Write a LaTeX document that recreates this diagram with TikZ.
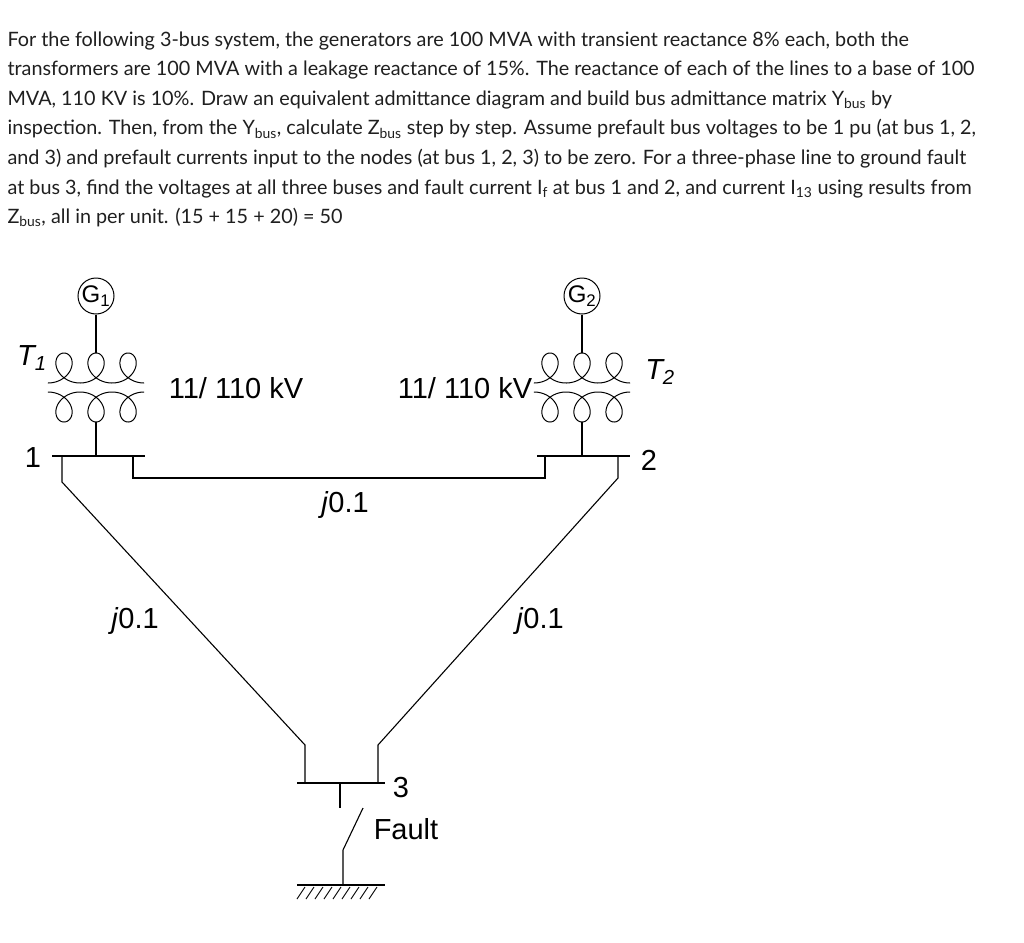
\documentclass[tikz,border=0pt]{standalone}
\usepackage{fontspec}
\setmainfont{Lato}
\newfontfamily\arialf{Liberation Sans}
\begin{document}
\begin{tikzpicture}[x=1pt,y=-1pt,line width=1.1pt,
  lbl/.style={font=\arialf\fontsize{29}{32}\selectfont,inner sep=0pt},
  gen/.style={circle,draw,line width=1pt,minimum size=36pt,inner sep=0pt,font=\arialf\fontsize{24}{26}\selectfont}]
\path[fill=white] (0,0) rectangle (1024,942);
\node[anchor=north west,align=left,inner sep=0pt,font=\fontsize{19.8}{29.6}\selectfont,text=black!88] (txt) at (7,31) {%
For the following 3-bus system, the generators are 100 MVA with transient reactance 8\% each, both the\\
transformers are 100 MVA with a leakage reactance of 15\%. The reactance of each of the lines to a base of 100\\
MVA, 110 KV is 10\%. Draw an equivalent admittance diagram and build bus admittance matrix Y\textsubscript{bus} by\\
inspection. Then, from the Y\textsubscript{bus}, calculate Z\textsubscript{bus} step by step. Assume prefault bus voltages to be 1 pu (at bus 1, 2,\\
and 3) and prefault currents input to the nodes (at bus 1, 2, 3) to be zero. For a three-phase line to ground fault\\
at bus 3, find the voltages at all three buses and fault current I\textsubscript{f} at bus 1 and 2, and current I\textsubscript{13} using results from\\
Z\textsubscript{bus}, all in per unit. (15 + 15 + 20) = 50};
% generators
\node[gen] (G1) at (96,296) {G\textsubscript{1}};
\node[gen] (G2) at (582,296) {G\textsubscript{2}};
\coordinate (p1) at (96,353); \coordinate (s1) at (96,422);
\coordinate (p2) at (582,353); \coordinate (s2) at (582,422);
\draw (G1) -- (p1); \draw (G2) -- (p2);
\foreach \cx in {96,582}{
  \draw[line width=1pt] plot[domain=-pi:5*pi,samples=300,variable=\t] ({\cx-32+5.1*(\t-3*sin(\t r))},{368-15*cos(\t r)});
  \draw[line width=1pt] plot[domain=-pi:5*pi,samples=300,variable=\t] ({\cx-32+5.1*(\t-3*sin(\t r))},{407+15*cos(\t r)});
}
% buses
\coordinate (b1) at (96,456); \coordinate (b2) at (582,456);
\draw (s1) -- (b1); \draw (s2) -- (b2);
\draw (52,456) -- (145,456);
\draw (537,456) -- (630,456);
\draw (297,783) coordinate (b3l) -- (385,783) coordinate (b3r);
% lines
\draw (62,456) -- (62,482) -- (305,745) -- (305,783);
\draw (133,456) -- (133,478) -- (545,478) -- (545,456);
\draw (618,456) -- (618,478) -- (378,745) -- (378,783);
% fault
\coordinate (b3) at (340,783);
\draw (b3) -- (340,808);
\draw (363,808) -- (343,850) -- (343,885);
\draw (297,885) -- (385,885);
\foreach \hx in {305,314,...,385} \draw[line width=0.9pt] (\hx,887) -- (\hx-8,899);
% labels
\node[lbl,font=\itshape\arialf\fontsize{29}{32}\selectfont] (T1) at (32,358) {T\textsubscript{1}};
\node[lbl,font=\itshape\arialf\fontsize{29}{32}\selectfont] (T2) at (660,372) {T\textsubscript{2}};
\node[lbl] (n1) at (33,458) {1};
\node[lbl] (n2) at (649,460) {2};
\node[lbl] (n3) at (401,788) {3};
\node[lbl] (fl) at (406,829) {Fault};
\node[lbl] (kv1) at (236,388) {11/ 110 kV};
\node[lbl] (kv2) at (465,388) {11/ 110 kV};
\node[lbl] (z12) at (345,505) {\textit{j}0.1};
\node[lbl] (z13) at (135,621) {\textit{j}0.1};
\node[lbl] (z23) at (540,621) {\textit{j}0.1};
\end{tikzpicture}
\end{document}
